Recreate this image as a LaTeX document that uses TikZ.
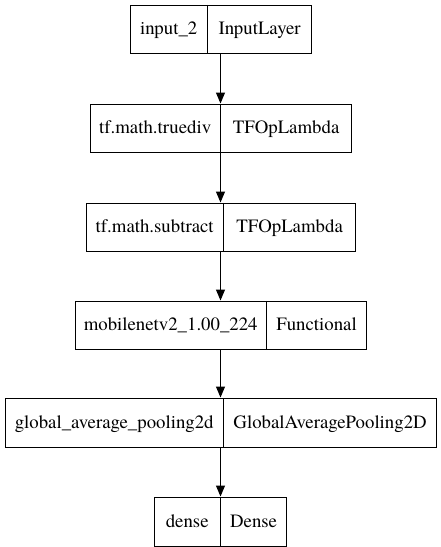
\documentclass[tikz,border=0pt]{standalone}
\usepackage{fontspec}
\setmainfont{texgyretermes-regular.otf}
\usepackage{tikz}
\usetikzlibrary{arrows.meta}
\usetikzlibrary{positioning}

\begin{document}
\begin{tikzpicture}[x=1pt, y=1pt,
    rec/.style={draw, line width=1pt, minimum height=48pt, inner sep=0pt},
    fld/.style={minimum height=48pt, inner sep=0pt, anchor=west,
      font=\fontsize{18.8}{20}\selectfont, text height=14pt, text depth=3pt},
    arr/.style={line width=1pt, -{Triangle[length=11pt, width=9pt]}}]

    \useasboundingbox (0, 0) rectangle (441, -547);

    \node[rec, minimum width=181pt] (input) at (220.5, -29) {};
    \node[fld, minimum width=78pt] (inputN) at (input.west) {input\_2};
    \node[fld, minimum width=103pt] (inputT) at (inputN.east) {InputLayer};
    \draw[line width=1pt] (inputN.north east) -- (inputN.south east);

    \node[rec, minimum width=261pt, below=50pt of input] (truediv) {};
    \node[fld, minimum width=131pt] (truedivN) at (truediv.west) {tf.math.truediv};
    \node[fld, minimum width=130pt] (truedivT) at (truedivN.east) {TFOpLambda};
    \draw[line width=1pt] (truedivN.north east) -- (truedivN.south east);

    \node[rec, minimum width=269pt, below=50pt of truediv] (subtract) {};
    \node[fld, minimum width=138pt] (subtractN) at (subtract.west) {tf.math.subtract};
    \node[fld, minimum width=131pt] (subtractT) at (subtractN.east) {TFOpLambda};
    \draw[line width=1pt] (subtractN.north east) -- (subtractN.south east);

    \node[rec, minimum width=291pt, below=49pt of subtract] (mobilenet) {};
    \node[fld, minimum width=192pt] (mobilenetN) at (mobilenet.west) {mobilenetv2\_1.00\_224};
    \node[fld, minimum width=99pt] (mobilenetT) at (mobilenetN.east) {Functional};
    \draw[line width=1pt] (mobilenetN.north east) -- (mobilenetN.south east);

    \node[rec, minimum width=431pt, minimum height=49pt, below=48pt of mobilenet] (gap) {};
    \node[fld, minimum width=219pt] (gapN) at (gap.west) {global\_average\_pooling2d};
    \node[fld, minimum width=212pt] (gapT) at (gapN.east) {GlobalAveragePooling2D};
    \draw[line width=1pt] (gapN.north east) -- (gapN.south east);

    \node[rec, minimum width=132pt, minimum height=49pt, below=49pt of gap] (dense) {};
    \node[fld, minimum width=66pt] (denseN) at (dense.west) {dense};
    \node[fld, minimum width=66pt] (denseT) at (denseN.east) {Dense};
    \draw[line width=1pt] (denseN.north east) -- (denseN.south east);

    \draw[arr] (input) -- (truediv);
    \draw[arr] (truediv) -- (subtract);
    \draw[arr] (subtract) -- (mobilenet);
    \draw[arr] (mobilenet) -- (gap);
    \draw[arr] (gap) -- (dense);

  \end{tikzpicture}
\end{document}
